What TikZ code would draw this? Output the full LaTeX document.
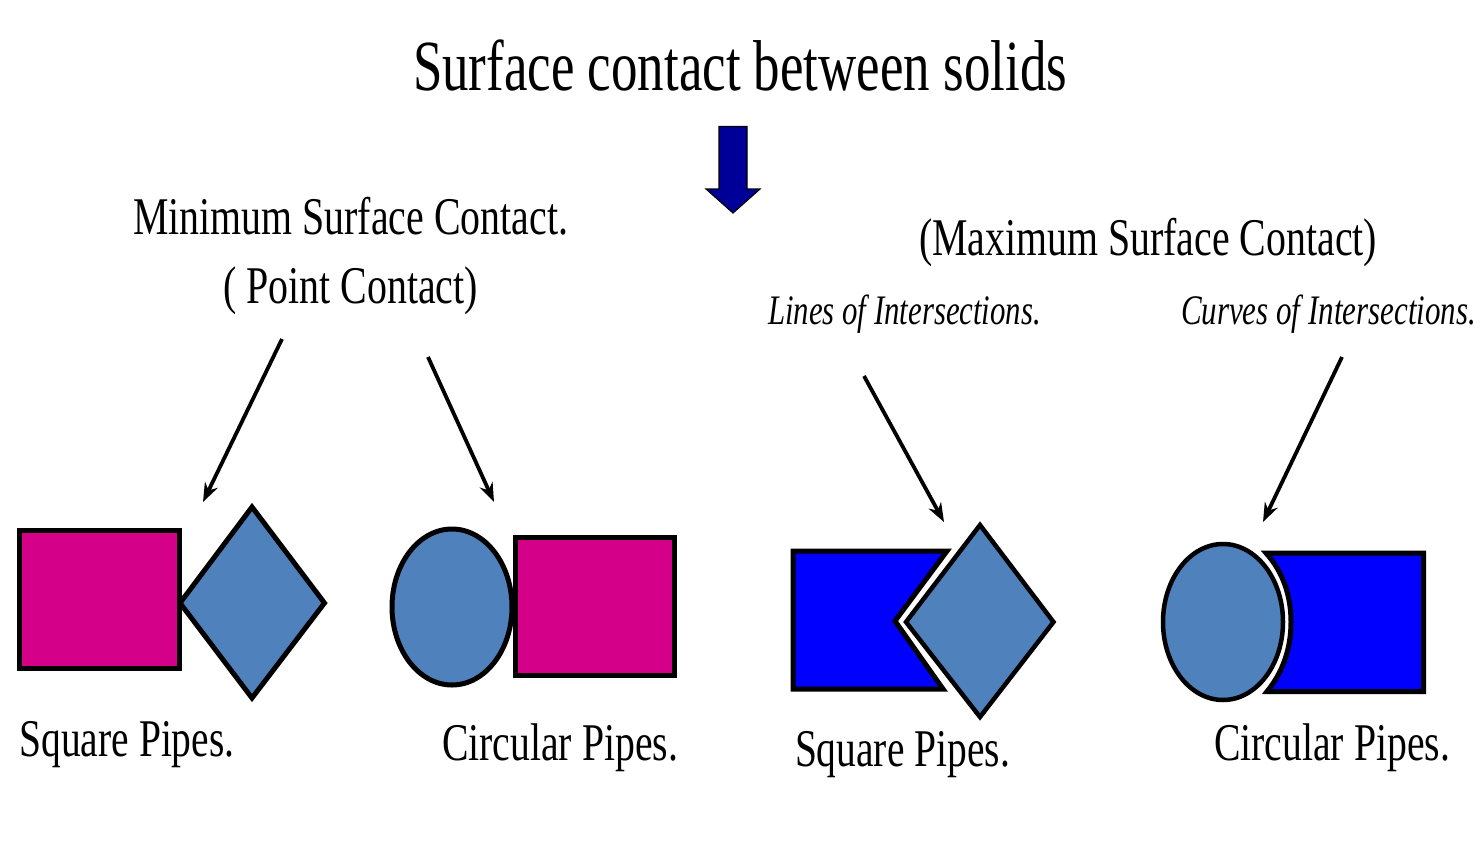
\documentclass[tikz,border=0pt]{standalone}
\usepackage{fontspec}
\setmainfont{Liberation Serif}
\usetikzlibrary{arrows.meta}
\definecolor{magentafill}{HTML}{D4008A}
\definecolor{steelfill}{HTML}{4F81BD}
\definecolor{bluefill}{HTML}{0000FF}
\definecolor{navyfill}{HTML}{000099}
\newcommand{\fitted}[3]{\resizebox{#1pt}{\height}{\fontsize{#2pt}{#2pt}\selectfont #3}}
\tikzset{
  label/.style={anchor=base west,inner sep=0pt,outer sep=0pt,text=black},
  shapeline/.style={draw=black,line width=5pt,line join=miter},
  thinline/.style={draw=black,line width=4.5pt,line join=miter},
  pointer/.style={draw=black,line width=3.8pt,-{Stealth[length=19pt,width=14pt]}},
}
\begin{document}
\begin{tikzpicture}[x=1pt,y=-1pt]
\useasboundingbox (0,0) rectangle (1484,854);
\fill[white] (0,0) rectangle (1484,854);
% texts
\node[label] (title) at (413,90) {\fitted{654}{72}{Surface contact between solids}};
\node[label] (minc) at (133,234.5) {\fitted{435}{53}{Minimum Surface Contact.}};
\node[label] (pointc) at (223,303.5) {\fitted{255}{53}{( Point Contact)}};
\node[label] (maxc) at (919,255) {\fitted{458}{53}{(Maximum Surface Contact)}};
\node[label] (lines) at (768,324) {\fitted{273}{42}{\itshape Lines of Intersections.}};
\node[label] (curves) at (1181,324) {\fitted{295}{42}{\itshape Curves of Intersections.}};
\node[label] (sq1) at (19.5,756) {\fitted{215}{53}{Square Pipes.}};
\node[label] (ci1) at (442,760) {\fitted{236}{53}{Circular Pipes.}};
\node[label] (sq2) at (795,766) {\fitted{215}{53}{Square Pipes.}};
\node[label] (ci2) at (1214,760) {\fitted{236}{53}{Circular Pipes.}};
% block arrow
\fill[navyfill,draw=black,line width=1.2pt,line join=miter] (719,126.5) -- (747,126.5) -- (747,189) -- (760,189) -- (733,213) -- (706,189) -- (719,189) -- cycle;
% left shapes
\path[shapeline,fill=magentafill] (19.5,530.5) rectangle (179.5,668.5);
\path[shapeline,fill=steelfill] (252,507) -- (324.5,603) -- (252,698) -- (180,603) -- cycle;
\path[shapeline,fill=steelfill] (452,607) ellipse [x radius=60,y radius=78];
\path[shapeline,fill=magentafill] (515,537.5) rectangle (674,675);
% right shapes
\path[shapeline,fill=bluefill] (947,551) -- (793,551) -- (793,689) -- (943,689) -- (895,621) -- cycle;
\path[thinline,fill=steelfill] (980,525) -- (1053.5,622) -- (980,717) -- (906,622) -- cycle;
\path[shapeline,fill=bluefill] (1266,553) -- (1423.5,553) -- (1423.5,691.5) -- (1267,691.5) .. controls (1283,672) and (1291,648) .. (1291,622) .. controls (1291,596) and (1283,572) .. (1266,553) -- cycle;
\path[thinline,fill=steelfill] (1223,622) ellipse [x radius=60,y radius=78];
% connectors
\coordinate (a1) at (282,339); \coordinate (a1e) at (203,502);
\coordinate (a2) at (428,357); \coordinate (a2e) at (494,502);
\coordinate (a3) at (864,376); \coordinate (a3e) at (944,522);
\coordinate (a4) at (1342,357); \coordinate (a4e) at (1263,522);
\draw[pointer] (a1) -- (a1e);
\draw[pointer] (a2) -- (a2e);
\draw[pointer] (a3) -- (a3e);
\draw[pointer] (a4) -- (a4e);
\end{tikzpicture}
\end{document}
